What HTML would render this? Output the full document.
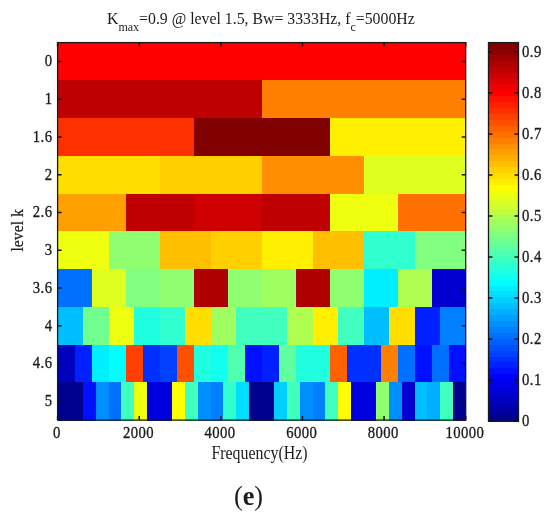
<!DOCTYPE html>
<html><head><meta charset="utf-8"><style>
html,body{margin:0;padding:0;background:#fff;}
body{width:550px;height:517px;overflow:hidden;}
svg{display:block;}
text{font-family:"Liberation Serif",serif;fill:#1c1c1c;}
.st{stroke:#1c1c1c;stroke-width:0.3;}
.st2{stroke:#1c1c1c;stroke-width:0.2;}
</style></head><body>
<svg width="550" height="517" viewBox="0 0 550 517">
<g shape-rendering="crispEdges">
<rect x="57.60" y="42.60" width="408.50" height="38.15" fill="#ff0000"/>
<rect x="57.60" y="80.35" width="204.45" height="38.15" fill="#bf0000"/>
<rect x="261.65" y="80.35" width="204.45" height="38.15" fill="#ff8000"/>
<rect x="57.60" y="118.10" width="136.43" height="38.15" fill="#ff3000"/>
<rect x="193.63" y="118.10" width="136.43" height="38.15" fill="#800000"/>
<rect x="329.67" y="118.10" width="136.43" height="38.15" fill="#ffef00"/>
<rect x="57.60" y="155.85" width="102.42" height="38.15" fill="#ffdf00"/>
<rect x="159.62" y="155.85" width="102.42" height="38.15" fill="#ffcf00"/>
<rect x="261.65" y="155.85" width="102.42" height="38.15" fill="#ff8f00"/>
<rect x="363.68" y="155.85" width="102.42" height="38.15" fill="#dfff20"/>
<rect x="57.60" y="193.60" width="68.42" height="38.15" fill="#ff9f00"/>
<rect x="125.62" y="193.60" width="68.42" height="38.15" fill="#bf0000"/>
<rect x="193.63" y="193.60" width="68.42" height="38.15" fill="#cf0000"/>
<rect x="261.65" y="193.60" width="68.42" height="38.15" fill="#bf0000"/>
<rect x="329.67" y="193.60" width="68.42" height="38.15" fill="#efff10"/>
<rect x="397.68" y="193.60" width="68.42" height="38.15" fill="#ff7000"/>
<rect x="57.60" y="231.35" width="51.41" height="38.15" fill="#efff10"/>
<rect x="108.61" y="231.35" width="51.41" height="38.15" fill="#8fff70"/>
<rect x="159.62" y="231.35" width="51.41" height="38.15" fill="#ffbf00"/>
<rect x="210.64" y="231.35" width="51.41" height="38.15" fill="#ffcf00"/>
<rect x="261.65" y="231.35" width="51.41" height="38.15" fill="#ffef00"/>
<rect x="312.66" y="231.35" width="51.41" height="38.15" fill="#ffbf00"/>
<rect x="363.68" y="231.35" width="51.41" height="38.15" fill="#30ffcf"/>
<rect x="414.69" y="231.35" width="51.41" height="38.15" fill="#80ff80"/>
<rect x="57.60" y="269.10" width="34.41" height="38.15" fill="#0070ff"/>
<rect x="91.61" y="269.10" width="34.41" height="38.15" fill="#dfff20"/>
<rect x="125.62" y="269.10" width="34.41" height="38.15" fill="#80ff80"/>
<rect x="159.62" y="269.10" width="34.41" height="38.15" fill="#8fff70"/>
<rect x="193.63" y="269.10" width="34.41" height="38.15" fill="#af0000"/>
<rect x="227.64" y="269.10" width="34.41" height="38.15" fill="#8fff70"/>
<rect x="261.65" y="269.10" width="34.41" height="38.15" fill="#9fff60"/>
<rect x="295.66" y="269.10" width="34.41" height="38.15" fill="#af0000"/>
<rect x="329.67" y="269.10" width="34.41" height="38.15" fill="#8fff70"/>
<rect x="363.68" y="269.10" width="34.41" height="38.15" fill="#00efff"/>
<rect x="397.68" y="269.10" width="34.41" height="38.15" fill="#afff50"/>
<rect x="431.69" y="269.10" width="34.41" height="38.15" fill="#0000cf"/>
<rect x="57.60" y="306.85" width="25.91" height="38.15" fill="#00bfff"/>
<rect x="83.11" y="306.85" width="25.91" height="38.15" fill="#70ff8f"/>
<rect x="108.61" y="306.85" width="25.91" height="38.15" fill="#efff10"/>
<rect x="134.12" y="306.85" width="25.91" height="38.15" fill="#20ffdf"/>
<rect x="159.62" y="306.85" width="25.91" height="38.15" fill="#30ffcf"/>
<rect x="185.13" y="306.85" width="25.91" height="38.15" fill="#ffdf00"/>
<rect x="210.64" y="306.85" width="25.91" height="38.15" fill="#9fff60"/>
<rect x="236.14" y="306.85" width="25.91" height="38.15" fill="#40ffbf"/>
<rect x="261.65" y="306.85" width="25.91" height="38.15" fill="#40ffbf"/>
<rect x="287.16" y="306.85" width="25.91" height="38.15" fill="#afff50"/>
<rect x="312.66" y="306.85" width="25.91" height="38.15" fill="#ffef00"/>
<rect x="338.17" y="306.85" width="25.91" height="38.15" fill="#40ffbf"/>
<rect x="363.68" y="306.85" width="25.91" height="38.15" fill="#00bfff"/>
<rect x="389.18" y="306.85" width="25.91" height="38.15" fill="#ffdf00"/>
<rect x="414.69" y="306.85" width="25.91" height="38.15" fill="#0020ff"/>
<rect x="440.19" y="306.85" width="25.91" height="38.15" fill="#0080ff"/>
<rect x="57.60" y="344.60" width="17.40" height="38.15" fill="#0000bf"/>
<rect x="74.60" y="344.60" width="17.40" height="38.15" fill="#0020ff"/>
<rect x="91.61" y="344.60" width="17.40" height="38.15" fill="#00efff"/>
<rect x="108.61" y="344.60" width="17.40" height="38.15" fill="#00ffff"/>
<rect x="125.62" y="344.60" width="17.40" height="38.15" fill="#ff4000"/>
<rect x="142.62" y="344.60" width="17.40" height="38.15" fill="#0030ff"/>
<rect x="159.62" y="344.60" width="17.40" height="38.15" fill="#0040ff"/>
<rect x="176.63" y="344.60" width="17.40" height="38.15" fill="#ff5000"/>
<rect x="193.63" y="344.60" width="17.40" height="38.15" fill="#20ffdf"/>
<rect x="210.64" y="344.60" width="17.40" height="38.15" fill="#10ffef"/>
<rect x="227.64" y="344.60" width="17.40" height="38.15" fill="#50ffaf"/>
<rect x="244.65" y="344.60" width="17.40" height="38.15" fill="#0010ff"/>
<rect x="261.65" y="344.60" width="17.40" height="38.15" fill="#0020ff"/>
<rect x="278.65" y="344.60" width="17.40" height="38.15" fill="#60ff9f"/>
<rect x="295.66" y="344.60" width="17.40" height="38.15" fill="#20ffdf"/>
<rect x="312.66" y="344.60" width="17.40" height="38.15" fill="#20ffdf"/>
<rect x="329.67" y="344.60" width="17.40" height="38.15" fill="#ff6000"/>
<rect x="346.67" y="344.60" width="17.40" height="38.15" fill="#0030ff"/>
<rect x="363.68" y="344.60" width="17.40" height="38.15" fill="#0030ff"/>
<rect x="380.68" y="344.60" width="17.40" height="38.15" fill="#ff8000"/>
<rect x="397.68" y="344.60" width="17.40" height="38.15" fill="#0070ff"/>
<rect x="414.69" y="344.60" width="17.40" height="38.15" fill="#0010ff"/>
<rect x="431.69" y="344.60" width="17.40" height="38.15" fill="#0070ff"/>
<rect x="448.70" y="344.60" width="17.40" height="38.15" fill="#0010ff"/>
<rect x="57.60" y="382.35" width="13.15" height="38.15" fill="#00008f"/>
<rect x="70.35" y="382.35" width="13.15" height="38.15" fill="#00008f"/>
<rect x="83.11" y="382.35" width="13.15" height="38.15" fill="#0010ff"/>
<rect x="95.86" y="382.35" width="13.15" height="38.15" fill="#008fff"/>
<rect x="108.61" y="382.35" width="13.15" height="38.15" fill="#0070ff"/>
<rect x="121.37" y="382.35" width="13.15" height="38.15" fill="#40ffbf"/>
<rect x="134.12" y="382.35" width="13.15" height="38.15" fill="#efff10"/>
<rect x="146.87" y="382.35" width="13.15" height="38.15" fill="#0000df"/>
<rect x="159.62" y="382.35" width="13.15" height="38.15" fill="#0000df"/>
<rect x="172.38" y="382.35" width="13.15" height="38.15" fill="#ffff00"/>
<rect x="185.13" y="382.35" width="13.15" height="38.15" fill="#40ffbf"/>
<rect x="197.88" y="382.35" width="13.15" height="38.15" fill="#008fff"/>
<rect x="210.64" y="382.35" width="13.15" height="38.15" fill="#0080ff"/>
<rect x="223.39" y="382.35" width="13.15" height="38.15" fill="#30ffcf"/>
<rect x="236.14" y="382.35" width="13.15" height="38.15" fill="#00dfff"/>
<rect x="248.90" y="382.35" width="13.15" height="38.15" fill="#00008f"/>
<rect x="261.65" y="382.35" width="13.15" height="38.15" fill="#00008f"/>
<rect x="274.40" y="382.35" width="13.15" height="38.15" fill="#00cfff"/>
<rect x="287.16" y="382.35" width="13.15" height="38.15" fill="#40ffbf"/>
<rect x="299.91" y="382.35" width="13.15" height="38.15" fill="#008fff"/>
<rect x="312.66" y="382.35" width="13.15" height="38.15" fill="#0080ff"/>
<rect x="325.42" y="382.35" width="13.15" height="38.15" fill="#40ffbf"/>
<rect x="338.17" y="382.35" width="13.15" height="38.15" fill="#ffff00"/>
<rect x="350.92" y="382.35" width="13.15" height="38.15" fill="#0000df"/>
<rect x="363.68" y="382.35" width="13.15" height="38.15" fill="#0000df"/>
<rect x="376.43" y="382.35" width="13.15" height="38.15" fill="#8fff70"/>
<rect x="389.18" y="382.35" width="13.15" height="38.15" fill="#008fff"/>
<rect x="401.93" y="382.35" width="13.15" height="38.15" fill="#0000cf"/>
<rect x="414.69" y="382.35" width="13.15" height="38.15" fill="#00bfff"/>
<rect x="427.44" y="382.35" width="13.15" height="38.15" fill="#00afff"/>
<rect x="440.19" y="382.35" width="13.15" height="38.15" fill="#40ffbf"/>
<rect x="452.95" y="382.35" width="13.15" height="38.15" fill="#00008f"/>
<rect x="488.5" y="415.28" width="30.0" height="6.32" fill="#00008f"/>
<rect x="488.5" y="409.37" width="30.0" height="6.32" fill="#00009f"/>
<rect x="488.5" y="403.45" width="30.0" height="6.32" fill="#0000af"/>
<rect x="488.5" y="397.54" width="30.0" height="6.32" fill="#0000bf"/>
<rect x="488.5" y="391.62" width="30.0" height="6.32" fill="#0000cf"/>
<rect x="488.5" y="385.71" width="30.0" height="6.32" fill="#0000df"/>
<rect x="488.5" y="379.79" width="30.0" height="6.32" fill="#0000ef"/>
<rect x="488.5" y="373.88" width="30.0" height="6.32" fill="#0000ff"/>
<rect x="488.5" y="367.96" width="30.0" height="6.32" fill="#0010ff"/>
<rect x="488.5" y="362.04" width="30.0" height="6.32" fill="#0020ff"/>
<rect x="488.5" y="356.13" width="30.0" height="6.32" fill="#0030ff"/>
<rect x="488.5" y="350.21" width="30.0" height="6.32" fill="#0040ff"/>
<rect x="488.5" y="344.30" width="30.0" height="6.32" fill="#0050ff"/>
<rect x="488.5" y="338.38" width="30.0" height="6.32" fill="#0060ff"/>
<rect x="488.5" y="332.47" width="30.0" height="6.32" fill="#0070ff"/>
<rect x="488.5" y="326.55" width="30.0" height="6.32" fill="#0080ff"/>
<rect x="488.5" y="320.63" width="30.0" height="6.32" fill="#008fff"/>
<rect x="488.5" y="314.72" width="30.0" height="6.32" fill="#009fff"/>
<rect x="488.5" y="308.80" width="30.0" height="6.32" fill="#00afff"/>
<rect x="488.5" y="302.89" width="30.0" height="6.32" fill="#00bfff"/>
<rect x="488.5" y="296.97" width="30.0" height="6.32" fill="#00cfff"/>
<rect x="488.5" y="291.06" width="30.0" height="6.32" fill="#00dfff"/>
<rect x="488.5" y="285.14" width="30.0" height="6.32" fill="#00efff"/>
<rect x="488.5" y="279.23" width="30.0" height="6.32" fill="#00ffff"/>
<rect x="488.5" y="273.31" width="30.0" height="6.32" fill="#10ffef"/>
<rect x="488.5" y="267.39" width="30.0" height="6.32" fill="#20ffdf"/>
<rect x="488.5" y="261.48" width="30.0" height="6.32" fill="#30ffcf"/>
<rect x="488.5" y="255.56" width="30.0" height="6.32" fill="#40ffbf"/>
<rect x="488.5" y="249.65" width="30.0" height="6.32" fill="#50ffaf"/>
<rect x="488.5" y="243.73" width="30.0" height="6.32" fill="#60ff9f"/>
<rect x="488.5" y="237.82" width="30.0" height="6.32" fill="#70ff8f"/>
<rect x="488.5" y="231.90" width="30.0" height="6.32" fill="#80ff80"/>
<rect x="488.5" y="225.98" width="30.0" height="6.32" fill="#8fff70"/>
<rect x="488.5" y="220.07" width="30.0" height="6.32" fill="#9fff60"/>
<rect x="488.5" y="214.15" width="30.0" height="6.32" fill="#afff50"/>
<rect x="488.5" y="208.24" width="30.0" height="6.32" fill="#bfff40"/>
<rect x="488.5" y="202.32" width="30.0" height="6.32" fill="#cfff30"/>
<rect x="488.5" y="196.41" width="30.0" height="6.32" fill="#dfff20"/>
<rect x="488.5" y="190.49" width="30.0" height="6.32" fill="#efff10"/>
<rect x="488.5" y="184.58" width="30.0" height="6.32" fill="#ffff00"/>
<rect x="488.5" y="178.66" width="30.0" height="6.32" fill="#ffef00"/>
<rect x="488.5" y="172.74" width="30.0" height="6.32" fill="#ffdf00"/>
<rect x="488.5" y="166.83" width="30.0" height="6.32" fill="#ffcf00"/>
<rect x="488.5" y="160.91" width="30.0" height="6.32" fill="#ffbf00"/>
<rect x="488.5" y="155.00" width="30.0" height="6.32" fill="#ffaf00"/>
<rect x="488.5" y="149.08" width="30.0" height="6.32" fill="#ff9f00"/>
<rect x="488.5" y="143.17" width="30.0" height="6.32" fill="#ff8f00"/>
<rect x="488.5" y="137.25" width="30.0" height="6.32" fill="#ff8000"/>
<rect x="488.5" y="131.33" width="30.0" height="6.32" fill="#ff7000"/>
<rect x="488.5" y="125.42" width="30.0" height="6.32" fill="#ff6000"/>
<rect x="488.5" y="119.50" width="30.0" height="6.32" fill="#ff5000"/>
<rect x="488.5" y="113.59" width="30.0" height="6.32" fill="#ff4000"/>
<rect x="488.5" y="107.67" width="30.0" height="6.32" fill="#ff3000"/>
<rect x="488.5" y="101.76" width="30.0" height="6.32" fill="#ff2000"/>
<rect x="488.5" y="95.84" width="30.0" height="6.32" fill="#ff1000"/>
<rect x="488.5" y="89.93" width="30.0" height="6.32" fill="#ff0000"/>
<rect x="488.5" y="84.01" width="30.0" height="6.32" fill="#ef0000"/>
<rect x="488.5" y="78.09" width="30.0" height="6.32" fill="#df0000"/>
<rect x="488.5" y="72.18" width="30.0" height="6.32" fill="#cf0000"/>
<rect x="488.5" y="66.26" width="30.0" height="6.32" fill="#bf0000"/>
<rect x="488.5" y="60.35" width="30.0" height="6.32" fill="#af0000"/>
<rect x="488.5" y="54.43" width="30.0" height="6.32" fill="#9f0000"/>
<rect x="488.5" y="48.52" width="30.0" height="6.32" fill="#8f0000"/>
<rect x="488.5" y="42.60" width="30.0" height="6.32" fill="#800000"/>
</g>
<rect x="57.6" y="42.6" width="408.10" height="377.50" fill="none" stroke="#1a1a1a" stroke-width="1.3"/>
<rect x="488.5" y="42.6" width="30.0" height="378.60" fill="none" stroke="#1a1a1a" stroke-width="1.3"/>
<path d="M57.60 420.1v-4M57.60 42.6v4M139.22 420.1v-4M139.22 42.6v4M220.84 420.1v-4M220.84 42.6v4M302.46 420.1v-4M302.46 42.6v4M384.08 420.1v-4M384.08 42.6v4M465.70 420.1v-4M465.70 42.6v4M57.6 61.48h4M465.7 61.48h-4M57.6 99.22h4M465.7 99.22h-4M57.6 136.97h4M465.7 136.97h-4M57.6 174.72h4M465.7 174.72h-4M57.6 212.47h4M465.7 212.47h-4M57.6 250.22h4M465.7 250.22h-4M57.6 287.98h4M465.7 287.98h-4M57.6 325.73h4M465.7 325.73h-4M57.6 363.48h4M465.7 363.48h-4M57.6 401.23h4M465.7 401.23h-4M488.5 421.20h4M518.5 421.20h-4M488.5 380.16h4M518.5 380.16h-4M488.5 339.12h4M518.5 339.12h-4M488.5 298.08h4M518.5 298.08h-4M488.5 257.04h4M518.5 257.04h-4M488.5 216.00h4M518.5 216.00h-4M488.5 174.96h4M518.5 174.96h-4M488.5 133.92h4M518.5 133.92h-4M488.5 92.87h4M518.5 92.87h-4M488.5 51.83h4M518.5 51.83h-4" stroke="#111" stroke-width="1.5" fill="none"/>
<g font-size="14.7" class="st">
<text transform="translate(56.80,438.00) scale(1,1.16)" text-anchor="middle" letter-spacing="0.4">0</text>
<text transform="translate(138.42,438.00) scale(1,1.16)" text-anchor="middle" letter-spacing="0.4">2000</text>
<text transform="translate(220.04,438.00) scale(1,1.16)" text-anchor="middle" letter-spacing="0.4">4000</text>
<text transform="translate(301.66,438.00) scale(1,1.16)" text-anchor="middle" letter-spacing="0.4">6000</text>
<text transform="translate(383.28,438.00) scale(1,1.16)" text-anchor="middle" letter-spacing="0.4">8000</text>
<text transform="translate(464.90,438.00) scale(1,1.16)" text-anchor="middle" letter-spacing="0.4">10000</text>
<text transform="translate(52.50,66.28) scale(1,1.16)" text-anchor="end" letter-spacing="0.5">0</text>
<text transform="translate(52.50,104.02) scale(1,1.16)" text-anchor="end" letter-spacing="0.5">1</text>
<text transform="translate(52.50,141.78) scale(1,1.16)" text-anchor="end" letter-spacing="0.5">1.6</text>
<text transform="translate(52.50,179.53) scale(1,1.16)" text-anchor="end" letter-spacing="0.5">2</text>
<text transform="translate(52.50,217.28) scale(1,1.16)" text-anchor="end" letter-spacing="0.5">2.6</text>
<text transform="translate(52.50,255.03) scale(1,1.16)" text-anchor="end" letter-spacing="0.5">3</text>
<text transform="translate(52.50,292.78) scale(1,1.16)" text-anchor="end" letter-spacing="0.5">3.6</text>
<text transform="translate(52.50,330.53) scale(1,1.16)" text-anchor="end" letter-spacing="0.5">4</text>
<text transform="translate(52.50,368.28) scale(1,1.16)" text-anchor="end" letter-spacing="0.5">4.6</text>
<text transform="translate(52.50,406.03) scale(1,1.16)" text-anchor="end" letter-spacing="0.5">5</text>
<text transform="translate(522.00,426.30) scale(1,1.16)" letter-spacing="0.5">0</text>
<text transform="translate(522.00,385.26) scale(1,1.16)" letter-spacing="0.5">0.1</text>
<text transform="translate(522.00,344.22) scale(1,1.16)" letter-spacing="0.5">0.2</text>
<text transform="translate(522.00,303.18) scale(1,1.16)" letter-spacing="0.5">0.3</text>
<text transform="translate(522.00,262.14) scale(1,1.16)" letter-spacing="0.5">0.4</text>
<text transform="translate(522.00,221.10) scale(1,1.16)" letter-spacing="0.5">0.5</text>
<text transform="translate(522.00,180.06) scale(1,1.16)" letter-spacing="0.5">0.6</text>
<text transform="translate(522.00,139.02) scale(1,1.16)" letter-spacing="0.5">0.7</text>
<text transform="translate(522.00,97.97) scale(1,1.16)" letter-spacing="0.5">0.8</text>
<text transform="translate(522.00,56.93) scale(1,1.16)" letter-spacing="0.5">0.9</text>
</g>
<text x="107" y="24.3" font-size="15.8">K<tspan font-size="12" dy="7">max</tspan><tspan dy="-7">=0.9 @ level 1.5, Bw= 3333Hz, f</tspan><tspan font-size="12" dy="7">c</tspan><tspan dy="-7">=5000Hz</tspan></text>
<text transform="translate(259.5,459) scale(1,1.12)" font-size="15.9" text-anchor="middle">Frequency(Hz)</text>
<text class="st2" transform="translate(23,230.3) rotate(-90) scale(1,1.1)" font-size="15.8" text-anchor="middle">level k</text>
<text x="248.5" y="505.3" font-size="26.3" text-anchor="middle"><tspan>(</tspan><tspan font-weight="bold">e</tspan><tspan>)</tspan></text>
</svg>
</body></html>
